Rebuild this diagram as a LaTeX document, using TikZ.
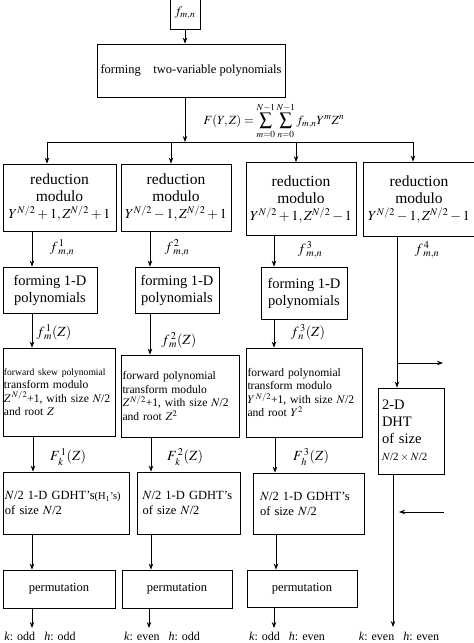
\documentclass[tikz,border=0pt]{standalone}
\usepackage{mathptmx}
\usepackage{fontspec}
\setmainfont{Liberation Serif}
\usetikzlibrary{arrows.meta}
\newcommand\redmath[1]{{\fontsize{13.8}{17}\selectfont$#1$}}
\begin{document}
\begin{tikzpicture}[x=1pt,y=-1pt,
  box/.style={draw,line width=0.8pt,inner sep=0pt,align=center},
  arr/.style={line width=0.8pt,-{Stealth[length=6pt,width=4.5pt]}},
  ln/.style={line width=0.8pt},
  lab/.style={inner sep=0pt,font=\fontsize{14}{16}\selectfont},
  redf/.style={font=\fontsize{15.5}{17}\selectfont},
  formf/.style={font=\fontsize{14.5}{17}\selectfont},
  trf/.style={align=left,font=\fontsize{11.6}{13.5}\selectfont},
  gdf/.style={align=left,font=\fontsize{12.5}{15}\selectfont},
  permf/.style={font=\fontsize{12.5}{15}\selectfont},
  botf/.style={inner sep=0pt,anchor=base,font=\fontsize{12}{14}\selectfont}]
\useasboundingbox (0,0) rectangle (474,643);

% top
\node[box,minimum width=30,minimum height=31,font=\fontsize{13}{15}\selectfont] (fmn) at (185,13.5) {$f_{m,n}$};
\node[box,minimum width=188,minimum height=53,font=\fontsize{12.5}{15}\selectfont] (big) at (191,70.5) {forming\quad two-variable polynomials};
\draw[arr] (fmn.south) -- (big.north -| fmn.south);
\coordinate (br) at (185,142);
\draw[arr] (big.south -| br) -- (br);
\node[inner sep=0pt,font=\fontsize{12.5}{15}\selectfont] (formula) at (274,121) {$\displaystyle F(Y,Z)=\sum_{m=0}^{N-1}\sum_{n=0}^{N-1} f_{m,n}Y^m Z^n$};

% reduction boxes
\node[box,redf,minimum width=113,minimum height=67] (r1) at (59.5,197.5) {reduction\\modulo\\\redmath{Y^{N/2}+1, Z^{N/2}+1}};
\node[box,redf,minimum width=110,minimum height=67] (r2) at (176,197.5) {reduction\\modulo\\\redmath{Y^{N/2}-1, Z^{N/2}+1}};
\node[box,redf,minimum width=110,minimum height=73] (r3) at (301,199) {reduction\\modulo\\\redmath{Y^{N/2}+1, Z^{N/2}-1}};
\node[box,redf,minimum width=112,minimum height=74] (r4) at (419,199) {reduction\\modulo\\\redmath{Y^{N/2}-1, Z^{N/2}-1}};

\coordinate (b1) at (47,142);
\coordinate (b2) at (171,142);
\coordinate (b3) at (296,142);
\coordinate (b4) at (413,142);
\draw[ln] (b1) -- (b4);
\draw[arr] (b1) -- (b1 |- r1.north);
\draw[arr] (b2) -- (b2 |- r2.north);
\draw[arr] (b3) -- (b3 |- r3.north);
\draw[arr] (b4) -- (b4 |- r4.north);

% forming 1-D boxes
\node[box,formf,minimum width=94,minimum height=46] (fo1) at (50,290) {forming 1-D\\polynomials};
\node[box,formf,minimum width=84,minimum height=46] (fo2) at (177,290) {forming 1-D\\polynomials};
\node[box,formf,minimum width=86,minimum height=52] (fo3) at (304,293) {forming 1-D\\polynomials};

\coordinate (x1) at (32,0);
\coordinate (x2) at (150,0);
\coordinate (x3) at (274,0);
\draw[arr] (r1.south -| x1) -- (fo1.north -| x1);
\draw[arr] (r2.south -| x2) -- (fo2.north -| x2);
\draw[arr] (r3.south -| x3) -- (fo3.north -| x3);
\node[lab] (lf1) at (62,248) {$f^{\,1}_{\;m,n}$};
\node[lab] (lf2) at (177,248) {$f^{\,2}_{\;m,n}$};
\node[lab] (lf3) at (310,250) {$f^{\,3}_{\;m,n}$};
\node[lab] (lf4) at (427,250) {$f^{\,4}_{\;m,n}$};

% transform boxes
\node[box,trf,minimum width=112,minimum height=88,text width=110] (t1) at (59,392) {{\fontsize{9.6}{12}\selectfont forward skew polynomial}\\transform modulo\\$Z^{\,N/2}$+1, with size $N$/2\\and root $Z$};
\node[box,trf,minimum width=118,minimum height=82,text width=115] (t2) at (180,396) {forward polynomial\\transform modulo\\$Z^{\,N/2}$+1, with size $N$/2\\and root $Z^2$};
\node[box,trf,minimum width=116,minimum height=89,text width=113] (t3) at (304,392.5) {forward polynomial\\transform modulo\\$Y^{\,N/2}$+1, with size $N$/2\\and root $Y^2$};

\draw[arr] (fo1.south -| x1) -- (t1.north -| x1);
\draw[arr] (fo2.south -| x2) -- (t2.north -| x2);
\draw[arr] (fo3.south -| x3) -- (t3.north -| x3);
\node[lab] (lg1) at (54,332) {$f^{\,1}_{\,m}(Z)$};
\node[lab] (lg2) at (179,340) {$f^{\,2}_{\,m}(Z)$};
\node[lab] (lg3) at (308,332) {$f^{\,3}_{\,n}(Z)$};

% column 4: 2-D DHT
\node[box,align=left,font=\fontsize{14.5}{17}\selectfont,minimum width=66,minimum height=86,text width=58] (dht) at (411,431) {2-D\\DHT\\of size\\{\fontsize{11}{17}\selectfont$N$/2\,$\times$\,$N$/2}};
\coordinate (x4) at (397,0);
\draw[arr] (r4.south -| x4) -- (dht.north -| x4);
\coordinate (ra1) at (397,363);
\coordinate (ra2) at (443,363);
\draw[arr] (ra1) -- (ra2);

% GDHT boxes
\node[box,gdf,minimum width=126,minimum height=62,text width=122] (g1) at (66,503) {$N$/2 1-D GDHT's{\fontsize{10.5}{12}\selectfont(H$_1$'s)}\\of size $N$/2};
\node[box,gdf,minimum width=103,minimum height=62,text width=92] (g2) at (188.5,503) {$N$/2 1-D GDHT's\\of size $N$/2};
\node[box,gdf,minimum width=111,minimum height=61,text width=97] (g3) at (308.5,503.5) {$N$/2 1-D GDHT's\\of size $N$/2};

\coordinate (y1) at (33,0);
\coordinate (y2) at (151,0);
\coordinate (y3) at (275,0);
\draw[arr] (t1.south -| y1) -- (g1.north -| y1);
\draw[arr] (t2.south -| y2) -- (g2.north -| y2);
\draw[arr] (t3.south -| y3) -- (g3.north -| y3);
\node[lab] (lF1) at (68,457) {$F^{\,1}_{\,k}(Z)$};
\node[lab] (lF2) at (185,457) {$F^{\,2}_{\,k}(Z)$};
\node[lab] (lF3) at (311,457) {$F^{\,3}_{\,h}(Z)$};

\coordinate (la1) at (444,512);
\coordinate (la2) at (399,512);
\draw[arr] (la1) -- (la2);

% permutation boxes
\node[box,permf,minimum width=112,minimum height=38] (p1) at (59,589) {\raisebox{-4pt}{permutation}};
\node[box,permf,minimum width=110,minimum height=38] (p2) at (177,589) {\raisebox{-4pt}{permutation}};
\node[box,permf,minimum width=110,minimum height=37] (p3) at (302,588.5) {\raisebox{-4pt}{permutation}};

\coordinate (z1) at (32,0);
\coordinate (z2) at (151,0);
\coordinate (z3) at (276,0);
\draw[arr] (g1.south -| z1) -- (p1.north -| z1);
\draw[arr] (g2.south -| z2) -- (p2.north -| z2);
\draw[arr] (g3.south -| z3) -- (p3.north -| z3);

\coordinate (e1) at (32,628);
\coordinate (e2) at (149,628);
\coordinate (e3) at (274,628);
\coordinate (e4) at (393,627);
\draw[arr] (p1.south -| e1) -- (e1);
\draw[arr] (p2.south -| e2) -- (e2);
\draw[arr] (p3.south -| e3) -- (e3);
\draw[arr] (dht.south -| e4) -- (e4);

% bottom labels
\node[botf] (o1) at (40,640) {\textit{k}: odd\hspace{9pt}\textit{h}: odd};
\node[botf] (o2) at (162,640) {\textit{k}: even\hspace{9pt}\textit{h}: odd};
\node[botf] (o3) at (287,640) {\textit{k}: odd\hspace{9pt}\textit{h}: even};
\node[botf] (o4) at (399,640) {\textit{k}: even\hspace{9pt}\textit{h}: even};
\end{tikzpicture}
\end{document}
